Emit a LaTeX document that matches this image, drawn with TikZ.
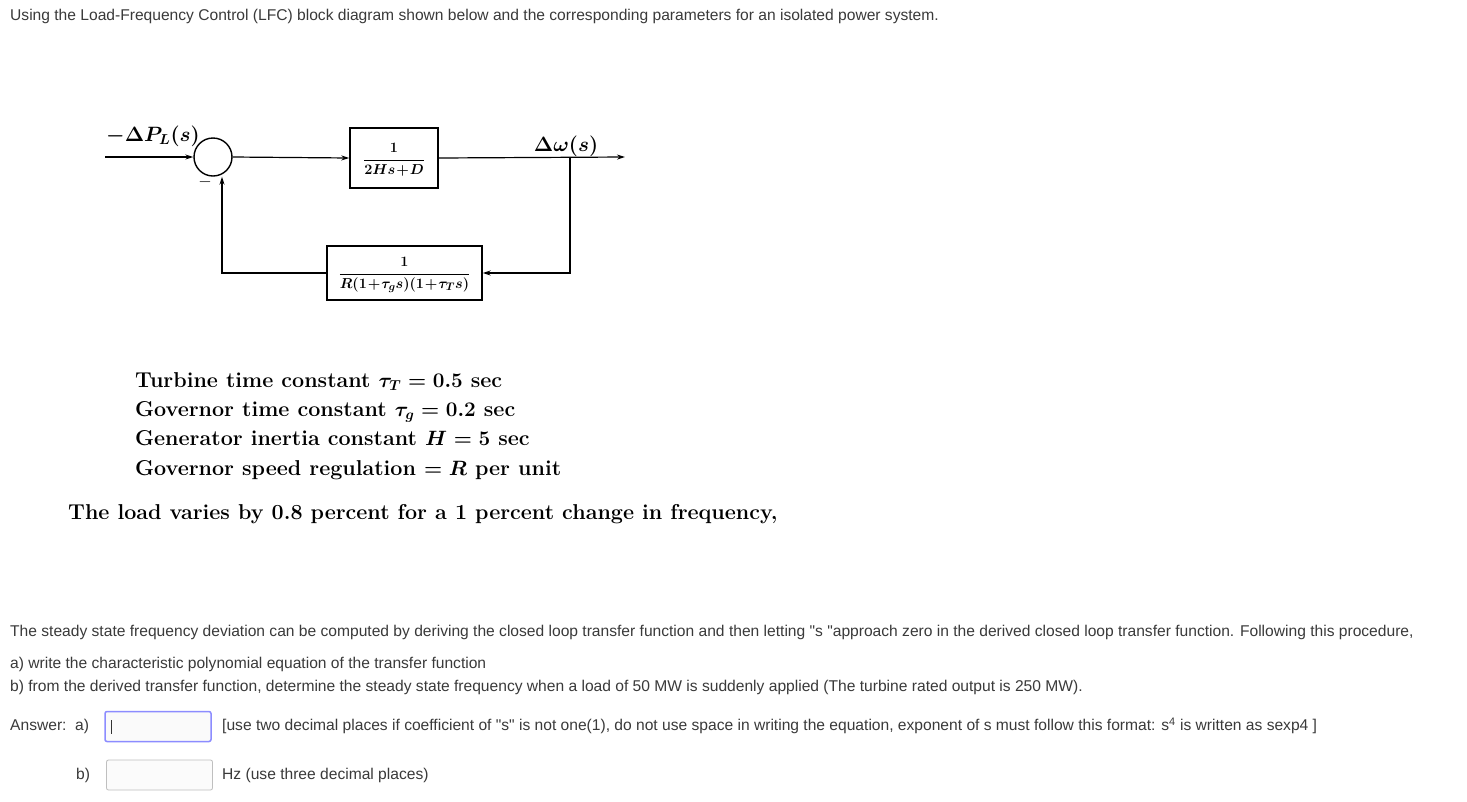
\documentclass[tikz,border=0pt]{standalone}
\usepackage{amsmath}
\usepackage{fontspec}
\newfontfamily\webfont{Liberation Sans}
\usetikzlibrary{arrows.meta}
\definecolor{webtxt}{HTML}{3A3A3A}
\tikzset{
  web/.style={anchor=west,inner sep=0pt,text=webtxt,font=\webfont\fontsize{15.6}{18}\selectfont},
  par/.style={anchor=base west,inner sep=0pt,font=\bfseries\boldmath\fontsize{21.5}{24}\selectfont},
  blk/.style={draw,line width=1.4pt,inner sep=0pt},
  sig/.style={line width=1.2pt,-{Stealth[length=8pt,width=5pt]}},
  ansbox/.style={draw=#1,rounded corners=2pt,inner sep=0pt,minimum width=106pt,minimum height=30pt},
}
\begin{document}
\begin{tikzpicture}[x=1pt,y=-1pt]
\useasboundingbox (0,0) rectangle (1467,801);
\fill[white] (0,0) rectangle (1467,801);
\node[web] (t0) at (10,16) {Using the Load-Frequency Control (LFC) block diagram shown below and the corresponding parameters for an isolated power system.};
% diagram
\coordinate (in) at (105,157);
\node[draw,circle,line width=1.4pt,minimum size=38pt,inner sep=0pt] (sum) at (213,157) {};
\node[blk,minimum width=88pt,minimum height=60pt] (g1) at (394,158) {};
\node[font=\bfseries\boldmath\fontsize{15}{16}\selectfont,inner sep=0pt] (g1t) at (394,160) {$\dfrac{1}{2Hs\!+\!D}$};
\node[blk,minimum width=155pt,minimum height=54pt] (g2) at (404.5,273) {};
\node[font=\bfseries\boldmath\fontsize{15}{16}\selectfont,inner sep=0pt] (g2t) at (404.5,275) {$\dfrac{1}{R(1\!+\!\tau_g s)(1\!+\!\tau_T s)}$};
\coordinate (out) at (625,157);
\coordinate (br) at (570,157);
\coordinate (bl) at (222,273);
\node[font=\boldmath\fontsize{21}{22}\selectfont,inner sep=0pt] (lin) at (153,136) {$-\Delta P_L(s)$};
\node[font=\boldmath\fontsize{20}{22}\selectfont,inner sep=0pt] (lout) at (566,146) {$\Delta\omega(s)$};
\node[font=\fontsize{18}{18}\selectfont,inner sep=0pt] (mn) at (205,182) {$-$};
\draw[sig] (in) -- (sum.west);
\draw[sig] (sum.east) -- (g1.west);
\draw[sig] (g1.east) -- (out);
\draw[sig] (br) |- (g2.east);
\draw[sig] (g2.west) -| (bl) -- (bl|-sum.south);
% parameters
\node[par] (p1) at (135,387) {Turbine time constant $\tau_T=0.5$ sec};
\node[par] (p2) at (135,416) {Governor time constant $\tau_g=0.2$ sec};
\node[par] (p3) at (135,445) {Generator inertia constant $H=5$ sec};
\node[par] (p4) at (135,475) {Governor speed regulation $=R$ per unit};
\node[par] (p5) at (68,519) {The load varies by 0.8 percent for a 1 percent change in frequency,};
% question
\node[web] (q1) at (10,632) {The steady state frequency deviation can be computed by deriving the closed loop transfer function and then letting "s "approach zero in the derived closed loop transfer function. Following this procedure,};
\node[web] (q2) at (10,664) {a) write the characteristic polynomial equation of the transfer function};
\node[web] (q3) at (10,687) {b) from the derived transfer function, determine the steady state frequency when a load of 50 MW is suddenly applied (The turbine rated output is 250 MW).};
\node[web] (a1) at (10,726) {Answer:\ \ a)};
\node[ansbox=blue!45,line width=1.5pt,fill=gray!4] (ba) at (158,726.5) {};
\draw[line width=0.8pt,black!80] ([xshift=7pt,yshift=-7pt]ba.west) -- ([xshift=7pt,yshift=7pt]ba.west);
\node[web] (a1t) at (222,726) {[use two decimal places if coefficient of "s" is not one(1), do not use space in writing the equation, exponent of s must follow this format: s\textsuperscript{4} is written as sexp4 ]};
\node[web] (b1) at (76,775) {b)};
\node[ansbox=gray!50,line width=0.8pt,fill=gray!3] (bb) at (159.5,775) {};
\node[web] (b1t) at (222,775) {Hz (use three decimal places)};
\end{tikzpicture}
\end{document}
